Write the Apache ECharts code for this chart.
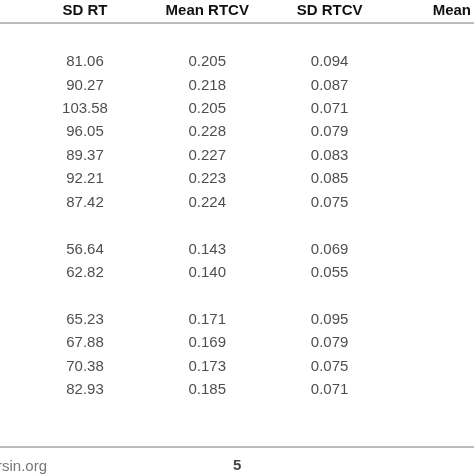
<!DOCTYPE html>
<html lang="en">
  <head>
    <meta charset="UTF-8" />
    <title>Table</title>
    <script src="https://cdn.jsdelivr.net/npm/echarts@6/dist/echarts.min.js"></script>
  </head>
  <body style="margin: 0">
    <div id="main" style="width: 474px; height: 474px"></div>
    <script type="text/javascript">
      // column headers (the last one is cut off in the picture)
      let headers = ["SD RT", "Mean RTCV", "SD RTCV", "Mean"];
      // empty strings are the spacer rows between groups
      let sdRT = ["81.06", "90.27", "103.58", "96.05", "89.37", "92.21", "87.42", "", "56.64", "62.82", "", "65.23", "67.88", "70.38", "82.93"];
      let meanRTCV = ["0.205", "0.218", "0.205", "0.228", "0.227", "0.223", "0.224", "", "0.143", "0.140", "", "0.171", "0.169", "0.173", "0.185"];
      let sdRTCV = ["0.094", "0.087", "0.071", "0.079", "0.083", "0.085", "0.075", "", "0.069", "0.055", "", "0.095", "0.079", "0.075", "0.071"];

      let columns = [sdRT, meanRTCV, sdRTCV];
      let rows = sdRT.map((v, i) => "r" + i);
      let cells = [];
      columns.forEach((col, c) => {
        col.forEach((v, r) => {
          if (v !== "") cells.push({ value: [c, r], text: v });
        });
      });

      let font = "'Liberation Sans', Arial, sans-serif";
      let myChart = echarts.init(document.getElementById("main"));
      myChart.setOption({
        animation: false,
        grid: { left: 85, width: 405, top: 62, bottom: 84 },
        xAxis: {
          type: "category",
          position: "top",
          data: headers,
          boundaryGap: false,
          axisLine: { show: false },
          axisTick: { show: false },
          axisLabel: { margin: 44, fontFamily: font, fontWeight: "bold", fontSize: 15, color: "#111", showMaxLabel: true },
        },
        yAxis: {
          type: "category",
          data: rows,
          inverse: true,
          boundaryGap: false,
          show: false,
        },
        series: [
          {
            type: "scatter",
            symbolSize: 0,
            data: cells,
            label: {
              show: true,
              position: "inside",
              formatter: (p) => p.data.text,
              fontFamily: font,
              fontSize: 15,
              color: "#222",
            },
          },
        ],
        graphic: [
          { type: "line", shape: { x1: 0, y1: 23, x2: 474, y2: 23 }, style: { stroke: "#bbb", lineWidth: 2 } },
          { type: "line", shape: { x1: 0, y1: 447, x2: 474, y2: 447 }, style: { stroke: "#bbb", lineWidth: 2 } },
          { type: "text", left: -3, top: 459, style: { text: "rsin.org", fontFamily: font, fontSize: 15, fill: "#777" } },
          { type: "text", left: 233, top: 458, style: { text: "5", fontFamily: font, fontSize: 15, fontWeight: "bold", fill: "#444" } },
        ],
      });
    </script>
  </body>
</html>
